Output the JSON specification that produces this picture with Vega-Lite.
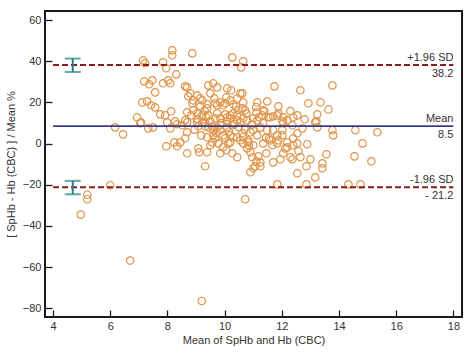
{
"$schema": "https://vega.github.io/schema/vega-lite/v6.json",
"width": 417, "height": 306,
"autosize": {"type": "none"},
"padding": {"left": 45, "top": 11, "right": 12, "bottom": 38},
"config": {"view": {"stroke": "#1a1a1a", "strokeWidth": 2}, "font": "Liberation Sans"},
"datasets": {
"points": [
{"mean":8.17,"diff":45.3},{"mean":8.17,"diff":42.9},{"mean":8.87,"diff":43.8},{"mean":10.27,"diff":41.9},{"mean":10.65,"diff":40.0},{"mean":10.58,"diff":37.0},{"mean":7.15,"diff":40.4},{"mean":7.22,"diff":39.0},{"mean":7.85,"diff":39.5},{"mean":7.96,"diff":36.6},
{"mean":8.31,"diff":33.6},{"mean":7.19,"diff":30.2},{"mean":7.47,"diff":30.7},{"mean":7.36,"diff":28.8},{"mean":7.85,"diff":29.3},{"mean":8.03,"diff":30.7},{"mean":8.10,"diff":29.3},{"mean":7.57,"diff":24.9},{"mean":8.62,"diff":27.8},{"mean":8.69,"diff":27.3},{"mean":9.43,"diff":28.3},{"mean":9.60,"diff":29.3},{"mean":9.74,"diff":27.3},{"mean":10.09,"diff":26.8},{"mean":10.23,"diff":25.9},{"mean":10.55,"diff":24.4},{"mean":11.74,"diff":27.8},{"mean":12.65,"diff":25.9},{"mean":13.77,"diff":28.3},{"mean":8.80,"diff":24.4},{"mean":9.04,"diff":23.4},{"mean":9.50,"diff":24.4},{"mean":10.62,"diff":24.4},{"mean":8.73,"diff":23.0},
{"mean":9.15,"diff":22.0},{"mean":8.90,"diff":21.0},{"mean":9.22,"diff":21.0},{"mean":9.64,"diff":22.0},{"mean":9.85,"diff":20.0},{"mean":10.06,"diff":22.5},{"mean":10.20,"diff":21.0},{"mean":10.44,"diff":22.0},{"mean":10.65,"diff":20.0},{"mean":9.39,"diff":19.1},{"mean":9.74,"diff":18.6},{"mean":9.95,"diff":18.6},{"mean":10.30,"diff":19.1},{"mean":11.14,"diff":20.0},{"mean":11.49,"diff":20.5},{"mean":11.88,"diff":18.1},{"mean":12.93,"diff":19.6},{"mean":13.35,"diff":20.0},{"mean":13.63,"diff":16.6},{"mean":7.12,"diff":20.0},{"mean":7.29,"diff":20.5},{"mean":7.43,"diff":18.6},{"mean":7.57,"diff":17.6},{"mean":8.87,"diff":19.6},{"mean":9.15,"diff":18.1},{"mean":9.67,"diff":19.6},{"mean":10.02,"diff":19.6},{"mean":9.39,"diff":17.1},{"mean":10.62,"diff":17.1},{"mean":8.69,"diff":15.2},{"mean":11.39,"diff":15.7},{"mean":8.90,"diff":16.2},{"mean":8.13,"diff":15.7},{"mean":10.48,"diff":16.2},{"mean":10.72,"diff":16.2},{"mean":11.35,"diff":16.2},
{"mean":6.94,"diff":12.8},{"mean":7.08,"diff":10.3},{"mean":7.75,"diff":14.2},{"mean":7.92,"diff":13.7},{"mean":9.22,"diff":13.7},{"mean":9.43,"diff":13.7},{"mean":9.74,"diff":14.7},{"mean":10.02,"diff":14.2},{"mean":10.20,"diff":13.7},{"mean":10.44,"diff":13.7},{"mean":10.76,"diff":14.7},{"mean":11.11,"diff":15.2},{"mean":11.32,"diff":13.7},{"mean":11.60,"diff":12.8},{"mean":11.84,"diff":13.7},{"mean":12.02,"diff":10.8},{"mean":12.19,"diff":11.3},{"mean":12.40,"diff":12.8},{"mean":12.54,"diff":13.7},{"mean":13.24,"diff":14.2},{"mean":13.21,"diff":10.8},{"mean":11.53,"diff":12.8},{"mean":11.70,"diff":13.3},{"mean":11.88,"diff":14.7},{"mean":10.65,"diff":12.3},{"mean":10.79,"diff":11.3},{"mean":11.14,"diff":11.3},{"mean":9.67,"diff":12.3},{"mean":10.20,"diff":12.3},{"mean":10.44,"diff":11.3},{"mean":9.36,"diff":12.8},{"mean":9.22,"diff":10.3},{"mean":8.27,"diff":10.8},{"mean":7.99,"diff":10.3},{"mean":8.69,"diff":10.3},{"mean":9.04,"diff":10.3},{"mean":9.32,"diff":9.9},{"mean":9.85,"diff":12.3},{"mean":10.09,"diff":10.8},{"mean":10.55,"diff":10.3},{"mean":8.83,"diff":13.7},{"mean":9.04,"diff":14.7},{"mean":10.09,"diff":12.8},{"mean":10.30,"diff":14.7},{"mean":11.00,"diff":12.3},{"mean":12.05,"diff":12.8},
{"mean":6.17,"diff":7.9},{"mean":6.45,"diff":4.5},{"mean":7.05,"diff":9.9},{"mean":7.33,"diff":7.4},{"mean":7.50,"diff":7.9},{"mean":8.10,"diff":7.4},{"mean":8.34,"diff":9.4},{"mean":8.62,"diff":11.3},{"mean":8.52,"diff":8.9},{"mean":8.69,"diff":5.5},{"mean":9.08,"diff":8.4},{"mean":9.32,"diff":8.4},{"mean":9.57,"diff":8.4},{"mean":9.85,"diff":8.9},{"mean":10.09,"diff":7.9},{"mean":9.43,"diff":7.9},{"mean":9.74,"diff":7.9},{"mean":10.27,"diff":8.9},{"mean":9.18,"diff":4.0},{"mean":9.39,"diff":3.1},{"mean":9.60,"diff":4.0},{"mean":9.67,"diff":2.6},{"mean":10.02,"diff":2.6},{"mean":10.20,"diff":4.0},{"mean":10.44,"diff":3.1},{"mean":10.62,"diff":5.0},{"mean":10.90,"diff":5.5},{"mean":11.0,"diff":6.5},{"mean":11.14,"diff":4.0},{"mean":11.25,"diff":7.9},{"mean":11.35,"diff":9.9},{"mean":11.49,"diff":6.5},{"mean":11.56,"diff":2.6},{"mean":11.70,"diff":6.5},{"mean":11.84,"diff":4.0},{"mean":12.02,"diff":4.0},{"mean":12.02,"diff":6.5},{"mean":12.05,"diff":9.9},{"mean":12.37,"diff":8.9},{"mean":12.54,"diff":5.0},{"mean":12.72,"diff":7.4},{"mean":13.17,"diff":10.3},{"mean":13.24,"diff":7.9},{"mean":13.77,"diff":6.5},{"mean":13.80,"diff":4.0},{"mean":14.57,"diff":6.5},{"mean":15.34,"diff":5.5},{"mean":9.85,"diff":6.5},{"mean":9.95,"diff":4.0},{"mean":9.71,"diff":5.0},{"mean":11.88,"diff":1.6},{"mean":10.83,"diff":1.6},
{"mean":7.96,"diff":-1.3},{"mean":8.24,"diff":0.6},{"mean":8.34,"diff":-1.3},{"mean":8.45,"diff":0.6},{"mean":8.62,"diff":2.6},{"mean":8.69,"diff":-4.7},{"mean":9.08,"diff":-2.3},{"mean":9.11,"diff":-4.2},{"mean":9.39,"diff":-4.2},{"mean":9.50,"diff":-0.8},{"mean":9.57,"diff":0.6},{"mean":9.78,"diff":0.1},{"mean":9.85,"diff":-4.7},{"mean":10.06,"diff":-3.2},{"mean":10.13,"diff":0.1},{"mean":10.27,"diff":-4.7},{"mean":10.44,"diff":-6.6},{"mean":10.30,"diff":3.1},{"mean":10.55,"diff":1.6},{"mean":10.65,"diff":3.1},{"mean":10.83,"diff":0.6},{"mean":10.79,"diff":-2.3},{"mean":10.90,"diff":-4.2},{"mean":10.65,"diff":0.1},{"mean":11.0,"diff":-0.8},{"mean":10.97,"diff":-6.6},{"mean":11.18,"diff":-6.2},{"mean":11.25,"diff":-9.1},{"mean":11.07,"diff":-11.0},{"mean":11.35,"diff":0.1},{"mean":11.60,"diff":1.6},{"mean":11.67,"diff":-0.8},{"mean":11.84,"diff":0.1},{"mean":12.19,"diff":0.6},{"mean":12.19,"diff":-1.8},{"mean":12.30,"diff":-6.6},{"mean":12.37,"diff":-7.6},{"mean":11.95,"diff":-7.6},{"mean":11.70,"diff":-9.1},{"mean":12.05,"diff":-4.7},{"mean":12.12,"diff":-2.3},{"mean":12.40,"diff":2.6},{"mean":12.54,"diff":0.1},{"mean":12.40,"diff":-0.8},{"mean":12.58,"diff":-3.7},{"mean":12.89,"diff":-0.3},{"mean":13.0,"diff":-7.6},{"mean":12.86,"diff":-11.0},{"mean":13.42,"diff":-9.6},{"mean":13.42,"diff":-12.0},{"mean":13.56,"diff":-5.2},{"mean":14.54,"diff":-6.2},{"mean":15.13,"diff":-8.6},{"mean":14.82,"diff":0.1},{"mean":11.46,"diff":-4.7},{"mean":10.20,"diff":0.6},
{"mean":9.32,"diff":-11.0},{"mean":10.90,"diff":-13.9},{"mean":11.0,"diff":-12.0},{"mean":11.11,"diff":-8.6},{"mean":11.25,"diff":-11.0},{"mean":12.54,"diff":-14.4},{"mean":13.17,"diff":-16.4},{"mean":11.84,"diff":-19.8},{"mean":12.86,"diff":-19.8},{"mean":14.33,"diff":-19.8},{"mean":14.75,"diff":-19.8},{"mean":10.72,"diff":-27.0},{"mean":6.0,"diff":-20.2},
{"mean":5.2,"diff":-24.8},{"mean":5.2,"diff":-27.0},{"mean":4.97,"diff":-34.5},{"mean":6.7,"diff":-56.8},{"mean":9.2,"diff":-76.4},
{"mean":9.5,"diff":11.0},{"mean":9.9,"diff":10.0},{"mean":10.35,"diff":9.6},{"mean":10.5,"diff":8.0},{"mean":9.6,"diff":6.5},{"mean":10.15,"diff":5.8},{"mean":10.7,"diff":7.0},{"mean":10.95,"diff":9.2},{"mean":11.2,"diff":12.8},{"mean":9.05,"diff":12.0},{"mean":8.95,"diff":6.8},{"mean":10.4,"diff":18.0},{"mean":9.3,"diff":16.0},{"mean":11.1,"diff":17.8},{"mean":12.3,"diff":15.8},{"mean":12.8,"diff":11.8},{"mean":10.85,"diff":-1.0},{"mean":9.95,"diff":-1.7},{"mean":11.45,"diff":2.8},{"mean":12.65,"diff":-6.5}
],
"limits": [
{"start":4,"end":18,"value":38.2,"kind":"limit","top":"+1.96 SD","bottom":"38.2"},
{"start":4,"end":18,"value":8.5,"kind":"mean","top":"Mean","bottom":"8.5"},
{"start":4,"end":18,"value":-21.2,"kind":"limit","top":"-1.96 SD","bottom":"- 21.2"}
],
"ci": [
{"x":4.69,"lo":34.8,"hi":41.3},
{"x":4.69,"lo":-24.6,"hi":-18.1}
],
"caps": [
{"x":4.69,"y":34.8},{"x":4.69,"y":41.3},{"x":4.69,"y":-24.6},{"x":4.69,"y":-18.1}
]
},
"layer": [
{
"data": {"name": "points"},
"mark": {"type": "point", "shape": "circle", "filled": false, "size": 55, "strokeWidth": 1.2, "color": "#E0954A", "opacity": 1},
"encoding": {
"x": {"field": "mean", "type": "quantitative", "scale": {"domain": [3.72, 18.3], "nice": false, "zero": false},
"axis": {"values": [4,5,6,7,8,9,10,11,12,13,14,15,16,17,18], "labelExpr": "datum.value % 2 === 0 ? datum.label : ''", "tickSize": {"condition": {"test": "datum.value % 2 === 0", "value": -7}, "value": -4}, "domain": false, "grid": false, "tickColor": "#1a1a1a", "tickWidth": 1.3, "labelFontSize": 11, "labelColor": "#333", "labelPadding": 10, "title": "Mean of SpHb and Hb (CBC)", "titleFontWeight": "normal", "titleFontSize": 11, "titleColor": "#333", "titlePadding": 3}},
"y": {"field": "diff", "type": "quantitative", "scale": {"domain": [-84.2, 64.4], "nice": false, "zero": false},
"axis": {"values": [-80,-70,-60,-50,-40,-30,-20,-10,0,10,20,30,40,50,60], "labelExpr": "datum.value % 20 === 0 ? datum.label : ''", "tickSize": {"condition": {"test": "datum.value % 20 === 0", "value": -7}, "value": -4}, "domain": false, "grid": false, "tickColor": "#1a1a1a", "tickWidth": 1.3, "labelFontSize": 11, "labelColor": "#333", "labelPadding": 11, "title": "[ SpHb - Hb (CBC) ] / Mean %", "titleFontWeight": "normal", "titleFontSize": 11, "titleColor": "#333", "titlePadding": 6}}
}
},
{
"data": {"name": "limits"},
"transform": [{"filter": "datum.kind === 'limit'"}],
"mark": {"type": "rule", "color": "#8B1C1C", "strokeWidth": 2, "strokeDash": [6, 3]},
"encoding": {"x": {"field": "start", "type": "quantitative"}, "x2": {"field": "end"}, "y": {"field": "value", "type": "quantitative"}}
},
{
"data": {"name": "limits"},
"transform": [{"filter": "datum.kind === 'mean'"}],
"mark": {"type": "rule", "color": "#3A3D8A", "strokeWidth": 1.6},
"encoding": {"x": {"field": "start", "type": "quantitative"}, "x2": {"field": "end"}, "y": {"field": "value", "type": "quantitative"}}
},
{
"data": {"name": "limits"},
"mark": {"type": "text", "align": "right", "baseline": "bottom", "dy": -2, "fontSize": 11, "color": "#333"},
"encoding": {"x": {"field": "end", "type": "quantitative"}, "y": {"field": "value", "type": "quantitative"}, "text": {"field": "top"}}
},
{
"data": {"name": "limits"},
"mark": {"type": "text", "align": "right", "baseline": "top", "dy": 3, "fontSize": 11, "color": "#333"},
"encoding": {"x": {"field": "end", "type": "quantitative"}, "y": {"field": "value", "type": "quantitative"}, "text": {"field": "bottom"}}
},
{
"data": {"name": "ci"},
"mark": {"type": "rule", "color": "#237F7F", "strokeWidth": 2},
"encoding": {"x": {"field": "x", "type": "quantitative"}, "y": {"field": "lo", "type": "quantitative"}, "y2": {"field": "hi"}}
},
{
"data": {"name": "caps"},
"mark": {"type": "tick", "orient": "horizontal", "color": "#237F7F", "size": 16, "thickness": 2},
"encoding": {"x": {"field": "x", "type": "quantitative"}, "y": {"field": "y", "type": "quantitative"}}
}
]
}
